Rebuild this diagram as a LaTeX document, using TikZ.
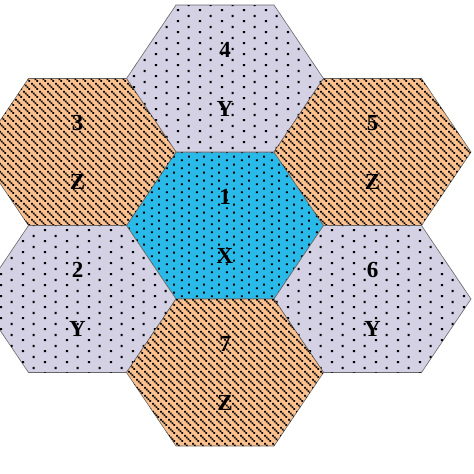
\documentclass[tikz,border=0pt]{standalone}
\usepackage{fontspec}
\setmainfont{Liberation Serif}
\usetikzlibrary{patterns}

\definecolor{cellblue}{RGB}{42,186,234}
\definecolor{cellgrey}{RGB}{212,209,228}
\definecolor{cellpeach}{RGB}{250,193,142}

% sparse staggered dots
\pgfdeclarepatternformonly{sparsedots}{\pgfpointorigin}{\pgfqpoint{22pt}{11pt}}{\pgfqpoint{22pt}{11pt}}{
  \pgfpathrectangle{\pgfqpoint{1pt}{1pt}}{\pgfqpoint{2.2pt}{2.2pt}}
  \pgfpathrectangle{\pgfqpoint{12pt}{6.5pt}}{\pgfqpoint{2.2pt}{2.2pt}}
  \pgfusepath{fill}}
% dense staggered dots
\pgfdeclarepatternformonly{densedots}{\pgfpointorigin}{\pgfqpoint{15pt}{8pt}}{\pgfqpoint{15pt}{8pt}}{
  \pgfpathrectangle{\pgfqpoint{1pt}{1pt}}{\pgfqpoint{2pt}{2pt}}
  \pgfpathrectangle{\pgfqpoint{8.5pt}{5pt}}{\pgfqpoint{2pt}{2pt}}
  \pgfusepath{fill}}
% dotted diagonal lines
\pgfdeclarepatternformonly{diagdots}{\pgfpointorigin}{\pgfqpoint{8pt}{8pt}}{\pgfqpoint{8pt}{8pt}}{
  \pgfpathrectangle{\pgfqpoint{0pt}{6pt}}{\pgfqpoint{2pt}{2pt}}
  \pgfpathrectangle{\pgfqpoint{2pt}{4pt}}{\pgfqpoint{2pt}{2pt}}
  \pgfpathrectangle{\pgfqpoint{4pt}{2pt}}{\pgfqpoint{2pt}{2pt}}
  \pgfpathrectangle{\pgfqpoint{6pt}{0pt}}{\pgfqpoint{2pt}{2pt}}
  \pgfusepath{fill}}

\tikzset{
  cell/.style={draw=gray!80!black,line width=.6pt},
  cellX/.style={cell,fill=cellblue,postaction={pattern=densedots}},
  cellY/.style={cell,fill=cellgrey,postaction={pattern=sparsedots}},
  cellZ/.style={cell,fill=cellpeach,postaction={pattern=diagdots}},
  lbl/.style={font=\bfseries\fontsize{23}{23}\selectfont,inner sep=0pt}
}

\begin{document}
\begin{tikzpicture}[x=1pt,y=-1pt]
	\useasboundingbox (0,0) rectangle (474,474);
	\clip (0,0) rectangle (474,474);
	\foreach \n/\cx/\cy/\kind in {1/225/225.5/X,
						4/225/78.5/Y,
						3/77.5/152/Z,
						5/372.5/152/Z,
						2/77.5/299/Y,
						6/372.5/299/Y,
						7/225/372.5/Z}
	{
		\draw[cell\kind,shift={(\cx,\cy)}] (-98.5,0) -- (-49,-73.5) -- (49,-73.5)
			-- (98.5,0) -- (49,73.5) -- (-49,73.5) -- cycle;
		\coordinate (c\n) at (\cx,\cy);
		\node[lbl] (num\n) at ([yshift=29pt]c\n) {\n};
		\node[lbl] (let\n) at ([yshift=-30pt]c\n) {\kind};
	}
\end{tikzpicture}
\end{document}
